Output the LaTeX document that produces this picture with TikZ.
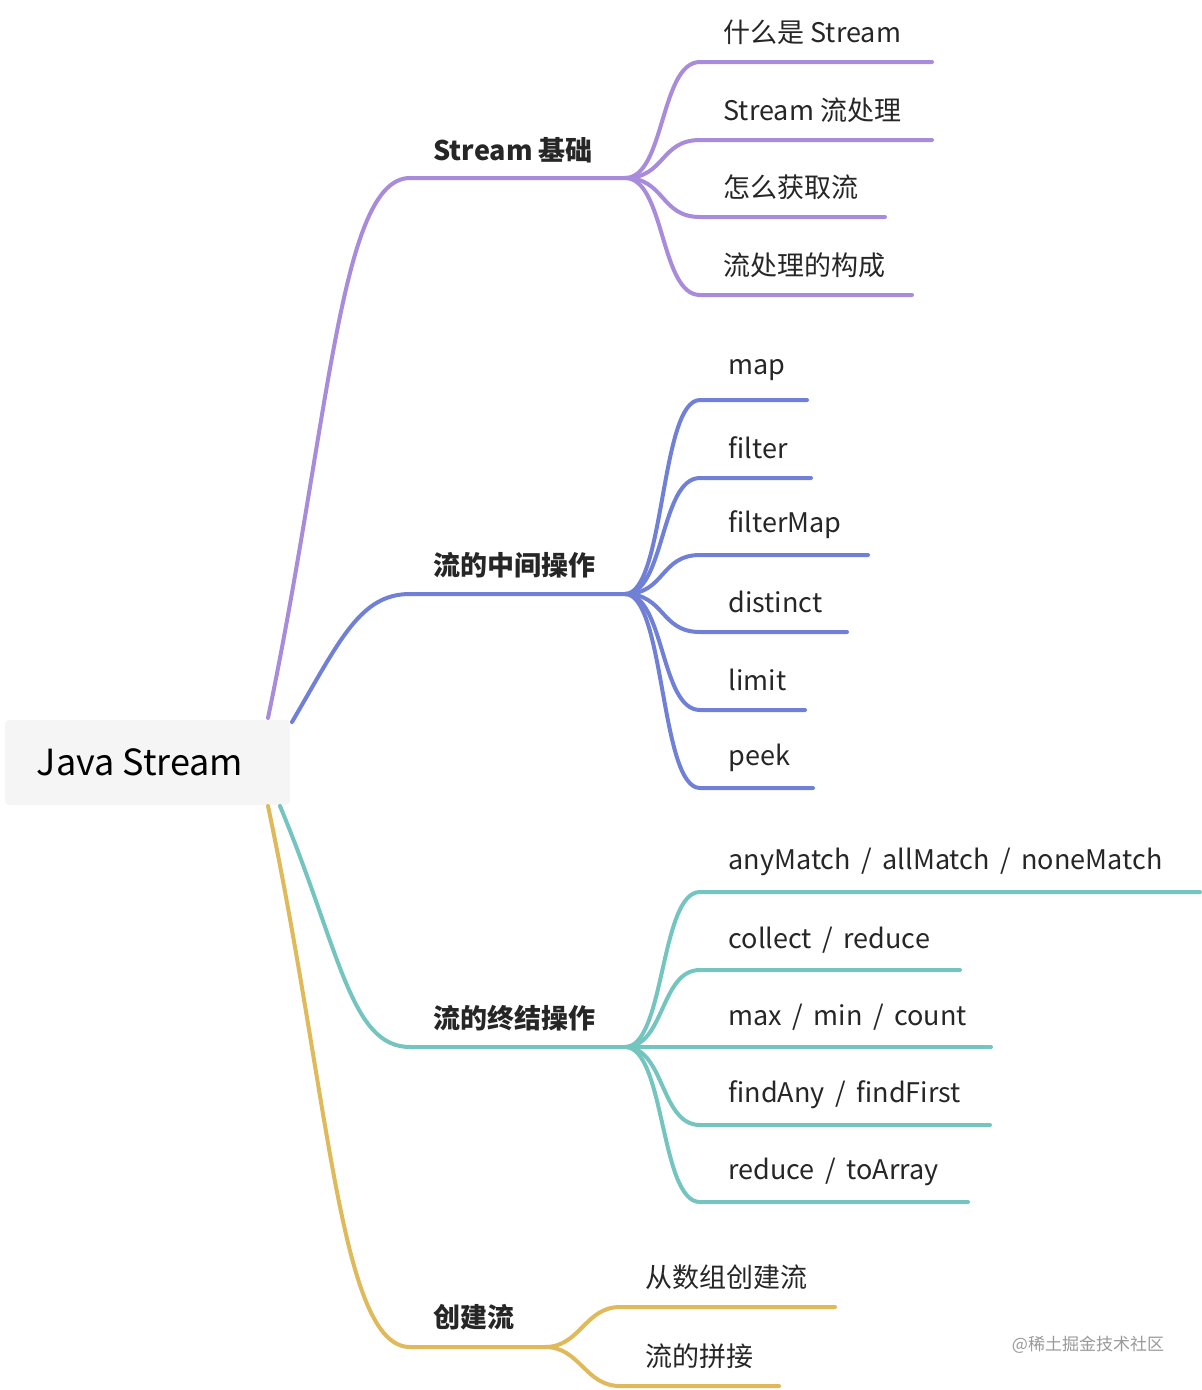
\documentclass[tikz,border=0pt]{standalone}
\usepackage{fontspec}
\setmainfont{Noto Sans CJK SC}
\begin{document}
\begin{tikzpicture}[x=1pt,y=-1pt,
  br/.style={line width=4pt,line cap=round},
  leaf/.style={anchor=west,font=\fontsize{27}{27}\selectfont,text=black!85},
  mid/.style={anchor=west,font=\fontsize{27}{27}\selectfont\bfseries,text=black!85}]
\definecolor{cp}{HTML}{A98BDB}
\definecolor{cb}{HTML}{6F80D6}
\definecolor{ct}{HTML}{74C5C0}
\definecolor{cg}{HTML}{DFB95A}
\useasboundingbox (0,0) rectangle (1202,1390);
\fill[black!4,rounded corners=4pt] (5,720) rectangle (290,805);
\node (root) at (140,762) {\fontsize{36}{36}\selectfont Java Stream};
\coordinate (r1) at (268,718);
\coordinate (r2) at (292,722);
\coordinate (r3) at (280,806);
\coordinate (r4) at (268,806);
\coordinate (h1) at (625,178);
\coordinate (h2) at (625,594);
\coordinate (h3) at (625,1047);
\coordinate (h4) at (545,1347);
\draw[br,cp] (r1) .. controls (330,420) and (340,178) .. (410,178) -- (h1);
\draw[br,cb] (r2) .. controls (340,640) and (360,594) .. (410,594) -- (h2);
\draw[br,ct] (r3) .. controls (340,950) and (350,1047) .. (410,1047) -- (h3);
\draw[br,cg] (r4) .. controls (330,1100) and (340,1347) .. (410,1347) -- (h4);
\node[mid] (m1) at (430,150) {Stream 基础};
\node[mid] (m2) at (430,565) {流的中间操作};
\node[mid] (m3) at (430,1018) {流的终结操作};
\node[mid] (m4) at (430,1317) {创建流};
\foreach \y/\e/\t [count=\i] in {62/932/{什么是 Stream},140/932/{Stream 流处理},217/885/{怎么获取流},295/912/{流处理的构成}}{
  \coordinate (a\i) at (700,\y); \coordinate (ae\i) at (\e,\y);
  \draw[br,cp] (h1) .. controls (665,178) and (660,\y) .. (a\i) -- (ae\i);
  \node[leaf] (ta\i) at (720,\y-30) {\t};}
\foreach \y/\e/\t [count=\i] in {400/807/map,478/811/filter,555/868/filterMap,632/847/distinct,710/805/limit,788/813/peek}{
  \coordinate (b\i) at (700,\y); \coordinate (be\i) at (\e,\y);
  \draw[br,cb] (h2) .. controls (665,594) and (660,\y) .. (b\i) -- (be\i);
  \node[leaf] (tb\i) at (725,\y-30) {\t};}
\foreach \y/\e/\t [count=\i] in {892/1200/{anyMatch \,/\, allMatch \,/\, noneMatch},970/960/{collect \,/\, reduce},1047/991/{max \,/\, min \,/\, count},1125/990/{findAny \,/\, findFirst},1202/968/{reduce \,/\, toArray}}{
  \coordinate (c\i) at (700,\y); \coordinate (ce\i) at (\e,\y);
  \draw[br,ct] (h3) .. controls (665,1047) and (660,\y) .. (c\i) -- (ce\i);
  \node[leaf] (tc\i) at (725,\y-30) {\t};}
\foreach \y/\e/\t [count=\i] in {1307/835/{从数组创建流},1386/779/{流的拼接}}{
  \coordinate (d\i) at (620,\y); \coordinate (de\i) at (\e,\y);
  \draw[br,cg] (h4) .. controls (580,1347) and (585,\y) .. (d\i) -- (de\i);
  \node[leaf] (td\i) at (642,\y-30) {\t};}
\node[text=black!40,font=\fontsize{17}{17}\selectfont] (wm) at (1088,1345) {@稀土掘金技术社区};
\end{tikzpicture}
\end{document}
